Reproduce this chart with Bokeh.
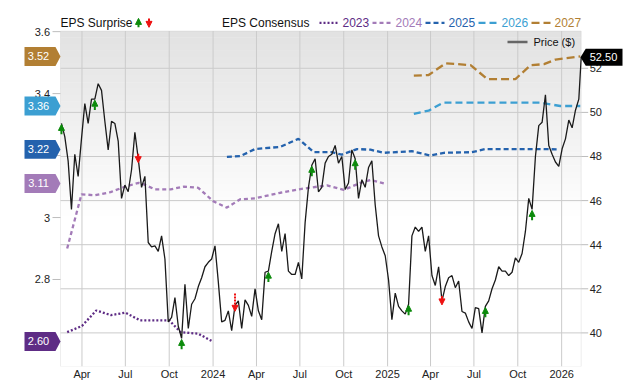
import pandas as pd
from bokeh.plotting import figure
from bokeh.core.properties import value
from bokeh.models import (Range1d, FixedTicker, BoxAnnotation, Arrow, NormalHead, ColumnDataSource)
from bokeh.embed import file_html
from bokeh.resources import INLINE

FONT = "Liberation Sans"

# ---------------- data ----------------
price_start = "2023-02-17"
price_last_date = "2026-02-11"
price_values = [
    49.5, 48.9, 47.8, 45.6, 48.1, 47.1, 48.8, 50.4, 49.5, 50.6,
    50.6, 51.3, 51.0, 49.6, 48.3, 49.6, 49.5, 48.7, 46.1, 46.7,
    46.4, 47.4, 49.1, 47.9, 46.6, 47.1, 44.1, 43.9, 43.95, 43.7,
    44.4, 43.35, 40.5, 40.7, 41.6, 40.3, 39.75, 42.2, 40.2, 41.3,
    41.55, 42.1, 42.5, 43.0, 43.2, 43.35, 43.95, 42.3, 40.5, 40.57,
    41.0, 40.1, 41.25, 41.45, 40.2, 41.5, 41.25, 40.75, 42.0, 41.0,
    40.6, 42.75, 42.8, 43.7, 44.5, 44.95, 43.7, 44.5, 42.8, 42.65,
    42.65, 43.2, 42.45, 45.0, 46.6, 47.6, 47.9, 46.4, 46.6, 47.7,
    48.0, 48.1, 48.5, 47.7, 48.0, 46.5, 46.8, 48.3, 47.9, 46.1,
    46.95, 46.6, 47.5, 47.8, 45.8, 44.4, 43.9, 43.5, 42.4, 40.6,
    41.8, 41.2, 41.0, 40.85, 41.3, 44.4, 44.8, 44.6, 44.8, 43.7,
    44.4, 42.6, 42.15, 43.0, 41.45, 42.1, 42.5, 42.6, 42.05, 42.35,
    40.97, 40.9, 40.5, 40.2, 41.15, 41.1, 40.0, 41.2, 41.45, 42.0,
    42.4, 43.0, 42.8, 42.8, 42.6, 42.75, 43.4, 43.2, 43.6, 44.6,
    46.1, 45.6, 48.0, 49.4, 49.55, 50.8, 48.5, 48.1, 47.75, 47.55,
    48.35, 48.8, 49.65, 49.3, 50.1, 50.6,
]
price_last = 52.50

eps2023_dates = ["2023-03-01", "2023-04-01", "2023-05-01", "2023-06-01", "2023-07-01",
                 "2023-08-01", "2023-10-01", "2023-10-25", "2023-12-01", "2023-12-31"]
eps2023_values = [2.63, 2.65, 2.70, 2.685, 2.693, 2.668, 2.668, 2.63, 2.625, 2.60]

eps2024_dates = ["2023-03-01", "2023-03-31", "2023-04-29", "2023-05-31", "2023-07-01",
                 "2023-07-29", "2023-08-09", "2023-09-01", "2023-10-04", "2023-11-01",
                 "2023-12-01", "2024-01-01", "2024-01-30", "2024-02-27", "2024-03-29",
                 "2024-05-21", "2024-06-28", "2024-08-27", "2024-10-01", "2024-11-05",
                 "2024-11-26", "2024-12-24"]
eps2024_values = [2.90, 3.075, 3.072, 3.082, 3.10, 3.112, 3.107, 3.091, 3.091, 3.10,
                  3.096, 3.053, 3.032, 3.059, 3.062, 3.08, 3.091, 3.104, 3.089, 3.112,
                  3.121, 3.11]

eps2025_dates = ["2024-01-30", "2024-02-27", "2024-03-29", "2024-05-21", "2024-06-28",
                 "2024-07-30", "2024-09-06", "2024-09-27", "2024-10-29", "2024-11-26",
                 "2024-12-24", "2025-02-21", "2025-04-01", "2025-04-29", "2025-06-27",
                 "2025-07-25", "2025-11-17", "2025-12-26"]
eps2025_values = [3.196, 3.198, 3.221, 3.228, 3.254, 3.211, 3.211, 3.203, 3.221, 3.219,
                  3.209, 3.214, 3.20, 3.209, 3.211, 3.221, 3.221, 3.22]

eps2026_dates = ["2025-02-25", "2025-03-28", "2025-04-28", "2025-11-17", "2025-12-29", "2026-02-09"]
eps2026_values = [3.335, 3.345, 3.371, 3.371, 3.36, 3.36]

eps2027_dates = ["2025-02-25", "2025-03-28", "2025-05-03", "2025-06-24", "2025-07-29",
                 "2025-09-26", "2025-10-28", "2025-11-25", "2025-12-19", "2026-02-09"]
eps2027_values = [3.458, 3.46, 3.498, 3.492, 3.447, 3.447, 3.492, 3.495, 3.51, 3.52]

surprise_dates = ["2023-02-17", "2023-04-28", "2023-07-28", "2023-10-27", "2024-02-16",
                  "2024-04-26", "2024-07-26", "2024-10-25", "2025-02-14", "2025-04-25",
                  "2025-07-25", "2025-10-31"]
surprise_sign = [1, 1, -1, 1, -1, 1, 1, 1, 1, -1, 1, 1]
surprise_pending = [False, False, False, False, True, False, False, False, False, False, False, False]

series_names = ["2023", "2024", "2025", "2026", "2027"]
series_colors = ["#5e2c85", "#a37bb8", "#2462ad", "#3c9fd2", "#b27f33"]
series_dash = ["2 2", "4 3", "5 3", "7 4", "8 4"]

quarter_ticks = ["2023-04-01", "2023-07-01", "2023-10-01", "2024-01-01", "2024-04-01",
                 "2024-07-01", "2024-10-01", "2025-01-01", "2025-04-01", "2025-07-01",
                 "2025-10-01", "2026-01-01"]
quarter_labels = ["Apr", "Jul", "Oct", "2024", "Apr", "Jul", "Oct", "2025", "Apr", "Jul",
                  "Oct", "2026"]
eps_ticks = [2.6, 2.8, 3.0, 3.2, 3.4, 3.6]
eps_tick_labels = ["", "2.8", "3", "", "3.4", "3.6"]   # 2.6 and 3.2 sit under the value tags
price_ticks = [40, 42, 44, 46, 48, 50, 52]
price_tick_labels = ["40", "42", "44", "46", "48", "50", "52"]

x_start, x_end = "2023-02-15", "2026-02-11"
eps_hi, eps_px_per_unit = 3.602, 311.5
price_hi, price_px_per_unit = 53.69, 22.17

# ---------------- layout (pixels) ----------------
W, H = 640, 382
BB = 14                       # bottom border for the date axis
FB = H - BB                   # frame bottom (px)
PL, PR, PT = 60.0, 580.7, 30.7  # plot-area box inside the frame


def ms(d):
    return pd.Timestamp(d).value / 1e6


ms_per_px = (ms(x_end) - ms(x_start)) / (PR - PL)
fx0 = ms(x_start) - PL * ms_per_px
fx1 = ms(x_end) + (W - PR) * ms_per_px
eps_f_top = eps_hi + PT / eps_px_per_unit
eps_f_bot = eps_hi - (FB - PT) / eps_px_per_unit
pr_f_top = price_hi + PT / price_px_per_unit
pr_f_bot = price_hi - (FB - PT) / price_px_per_unit

price_dates = list(pd.date_range(price_start, periods=len(price_values), freq="7D")) + [pd.Timestamp(price_last_date)]
price_all = price_values + [price_last]

p = figure(width=W, height=H, x_axis_type="datetime", y_axis_location=None,
           x_range=Range1d(fx0, fx1), y_range=Range1d(eps_f_bot, eps_f_top),
           min_border_left=0, min_border_right=0, min_border_top=0, min_border_bottom=BB,
           output_backend="svg", toolbar_location=None,
           background_fill_color="white", border_fill_color="white")
p.extra_y_ranges = {"price": Range1d(pr_f_bot, pr_f_top), "pxy": Range1d(FB, 0)}
p.extra_x_ranges = {"px": Range1d(0, W)}
p.outline_line_color = None
p.grid.visible = False

# gradient background of the plot area (grey at top fading to white)
nb = 30
g_top, g_bot = price_hi, 45.0
step = (g_top - g_bot) / nb
for i in range(nb):
    t = g_top - i * step
    b = t - step - 0.02
    frac = i / (nb - 1)
    c = int(0xe2 + (0xff - 0xe2) * frac)
    p.add_layout(BoxAnnotation(left=ms(x_start), right=ms(x_end), top=t, bottom=b,
                               y_range_name="price",
                               fill_color="#%02x%02x%02x" % (c, c, c), fill_alpha=1.0,
                               line_color=None, level="image"))

# date axis (real axis below the frame)
qt = [ms(d) for d in quarter_ticks]
xax = p.xaxis[0]
xax.ticker = FixedTicker(ticks=qt)
xax.major_label_overrides = {t: l for t, l in zip(qt, quarter_labels)}
xax.axis_line_color = None
xax.major_tick_out = 0
xax.major_tick_in = 0
xax.minor_tick_out = 0
xax.minor_tick_in = 0
xax.major_label_standoff = 1
xax.major_label_text_font = FONT
xax.major_label_text_font_size = "11px"
xax.major_label_text_color = "#222222"

GRID = "#cbcbcb"
# vertical grid lines at the quarter ticks
p.segment(x0=qt, x1=qt, y0=[eps_f_bot] * len(qt), y1=[eps_hi] * len(qt),
          line_color=GRID, line_width=1, level="underlay")
# horizontal grid lines at the price ticks
p.segment(x0=[ms(x_start)] * len(price_ticks), x1=[ms(x_end)] * len(price_ticks),
          y0=price_ticks, y1=price_ticks, y_range_name="price",
          line_color=GRID, line_width=1, level="underlay")
# plot-area border
p.add_layout(BoxAnnotation(left=ms(x_start), right=ms(x_end), top=eps_hi, bottom=eps_f_bot,
                           fill_alpha=0, line_color="#c6c6c6", line_width=1, level="underlay"))

# left (EPS) scale: ticks and labels
p.segment(x0=[PL - 8] * len(eps_ticks), x1=[PL] * len(eps_ticks), y0=eps_ticks, y1=eps_ticks,
          x_range_name="px", line_color="#bdbdbd", line_width=1)
p.text(x=[PL - 10.5] * len(eps_ticks), y=eps_ticks, text=eps_tick_labels, x_range_name="px",
       text_font=value(FONT), text_font_size="11px", text_color="#222222",
       text_align="right", text_baseline="middle")
# right (price) scale: ticks and labels
p.segment(x0=[PR] * len(price_ticks), x1=[PR + 7] * len(price_ticks), y0=price_ticks,
          y1=price_ticks, x_range_name="px", y_range_name="price", line_color="#bdbdbd", line_width=1)
p.text(x=[PR + 8.5] * len(price_ticks), y=price_ticks, text=price_tick_labels,
       x_range_name="px", y_range_name="price",
       text_font=value(FONT), text_font_size="11px", text_color="#222222",
       text_align="left", text_baseline="middle")

# EPS consensus lines
eps_dates = [eps2023_dates, eps2024_dates, eps2025_dates, eps2026_dates, eps2027_dates]
eps_vals = [eps2023_values, eps2024_values, eps2025_values, eps2026_values, eps2027_values]
for d, v, c, dash in zip(eps_dates, eps_vals, series_colors, series_dash):
    p.line([pd.Timestamp(x) for x in d], v, line_color=c, line_width=2.3, line_dash=dash)

# price line
p.line(price_dates, price_all, y_range_name="price", line_color="#1a1a1a", line_width=1.3)

# surprise arrows
kpx = 1.0 / price_px_per_unit
lookup = {d: v for d, v in zip(price_dates, price_all)}
for want_sign, pending in [(1, False), (-1, False), (-1, True)]:
    xs, y0, y1 = [], [], []
    for d, s, pe in zip(surprise_dates, surprise_sign, surprise_pending):
        if s != want_sign or pe != pending:
            continue
        pv = lookup[pd.Timestamp(d)]
        xs.append(ms(d))
        if s > 0:
            y0.append(pv - 11 * kpx)
            y1.append(pv - 1 * kpx)
        elif pending:
            y0.append(pv + 12 * kpx)
            y1.append(pv - 6 * kpx)
        else:
            y0.append(pv + 5 * kpx)
            y1.append(pv - 4 * kpx)
    if not xs:
        continue
    col = "#0b8a0b" if want_sign > 0 else "#ee1111"
    src = ColumnDataSource(dict(x=xs, y0=y0, y1=y1))
    p.add_layout(Arrow(x_start="x", y_start="y0", x_end="x", y_end="y1", source=src,
                       y_range_name="price", line_color=col, line_width=2,
                       line_dash="2 1" if pending else "solid",
                       end=NormalHead(size=6, fill_color=col, line_color=col, line_width=1)))

# value tags on the left (last EPS consensus of each year)
h = 9.5 / eps_px_per_unit
tag_xs, tag_ys, tag_txt, tag_val = [], [], [], []
for v in eps_vals:
    last = v[-1]
    tag_xs.append([24, 55, PL, 55, 24])
    tag_ys.append([last - h, last - h, last, last + h, last + h])
    tag_txt.append("%.2f" % last)
    tag_val.append(last)
p.patches(xs=tag_xs, ys=tag_ys, x_range_name="px", fill_color=series_colors, line_color=None)
p.text(x=[38] * len(tag_val), y=tag_val, text=tag_txt, x_range_name="px",
       text_font=value(FONT), text_font_size="11px", text_color="white",
       text_align="center", text_baseline="middle")

# price tag on the right
hp = 8.5 / price_px_per_unit
p.patch(x=[PR - 0.7, PR + 4.5, 622, 622, PR + 4.5],
        y=[price_last, price_last + hp, price_last + hp, price_last - hp, price_last - hp],
        x_range_name="px", y_range_name="price", fill_color="black", line_color=None)
p.text(x=[603], y=[price_last], text=["%.2f" % price_last], x_range_name="px", y_range_name="price",
       text_font=value(FONT), text_font_size="11px", text_color="white",
       text_align="center", text_baseline="middle")

# legend row above the plot area
LY = 22.5
leg_text = ["EPS Surprise", "EPS Consensus"] + series_names
leg_tx = [60, 221.5, 342, 395, 448, 501, 554]
leg_col = ["#111111", "#111111"] + series_colors
p.text(x=leg_tx, y=[LY] * len(leg_text), text=leg_text, text_color=leg_col,
       x_range_name="px", y_range_name="pxy",
       text_font=value(FONT), text_font_size="12px", text_baseline="middle")
leg_line_x = [319, 372, 425, 478, 531]
for lx, c, dash in zip(leg_line_x, series_colors, series_dash):
    p.line([lx, lx + 19], [LY, LY], x_range_name="px", y_range_name="pxy",
           line_color=c, line_width=2.3, line_dash=dash)
for ax, y_a, y_b, col in [(138, LY + 4.5, LY - 4.5, "#0b8a0b"), (148.5, LY - 4.5, LY + 4.5, "#ee1111")]:
    p.add_layout(Arrow(x_start=ax, y_start=y_a, x_end=ax, y_end=y_b,
                       x_range_name="px", y_range_name="pxy", line_color=col, line_width=2,
                       end=NormalHead(size=6, fill_color=col, line_color=col, line_width=1)))

# price legend inside the plot area
p.line([507, 527], [41.7, 41.7], x_range_name="px", y_range_name="pxy",
       line_color="#666666", line_width=2.5)
p.text(x=[533], y=[41.7], text=["Price ($)"], x_range_name="px", y_range_name="pxy",
       text_font=value(FONT), text_font_size="11px", text_color="#111111",
       text_baseline="middle")

open("out.html", "w").write(file_html(p, INLINE))
